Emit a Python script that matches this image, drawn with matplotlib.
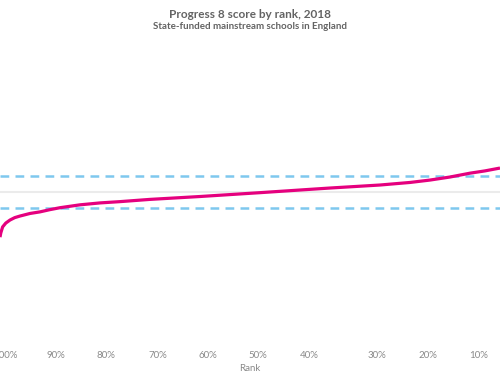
import matplotlib.pyplot as plt

# Progress 8 score against rank (percent of schools)
rank_pct = [101.1, 100.95, 100.6, 100.0, 99.2, 98.3, 97.3, 95.4, 93.5, 91.6, 89.7, 85.9, 82.1,
            78.3, 72.6, 63.1, 51.7, 38.4, 28.8, 23.1, 19.3, 15.5, 11.7, 8.9, 6.0]
p8_score = [-1.41, -1.28, -1.09, -0.97, -0.875, -0.80, -0.75, -0.67, -0.62, -0.55, -0.49, -0.40, -0.34,
            -0.30, -0.23, -0.14, -0.02, 0.125, 0.22, 0.30, 0.375, 0.47, 0.59, 0.66, 0.75]

# tick positions / labels as placed on the original axis
tick_pos = [100, 90.5, 81, 71, 61.5, 52, 42.2, 29.4, 19.7, 10]
tick_lab = ['100%', '90%', '80%', '70%', '60%', '50%', '40%', '30%', '20%', '10%']

# reference bands
band_hi = 0.5
band_lo = -0.5

fig = plt.figure(figsize=(5, 3.83), dpi=100)
ax = fig.add_axes([0, 0.1123, 1, 0.783])

ax.axhline(0, color='#ebebeb', lw=1.5, zorder=1)
ax.axhline(band_hi, color='#7ec8ee', lw=1.8, ls=(0, (3.5, 2.5)), zorder=2)
ax.axhline(band_lo, color='#7ec8ee', lw=1.8, ls=(0, (3.5, 2.5)), zorder=2)
ax.plot(rank_pct, p8_score, color='#e5007e', lw=2.3, zorder=3,
        solid_capstyle='butt', solid_joinstyle='round')

ax.set_xlim(101.1, 6.0)
ax.set_ylim(-4.625, 4.75)
ax.set_xticks(tick_pos)
ax.set_xticklabels(tick_lab, fontsize=7, color='#8a8a8a', family='Lato')
ax.tick_params(axis='x', length=0, pad=8)
ax.set_yticks([])
for s in ax.spines.values():
    s.set_visible(False)
ax.set_xlabel('Rank', fontsize=7, color='#8a8a8a', family='Lato', labelpad=3)

fig.text(0.5, 0.963, 'Progress 8 score by rank, 2018', ha='center', va='center',
         fontsize=8.5, color='#636363', family='Lato', weight='bold')
fig.text(0.5, 0.93, 'State-funded mainstream schools in England', ha='center', va='center',
         fontsize=7, color='#636363', family='Lato', weight='bold')

fig.savefig('out.png', dpi=100)
